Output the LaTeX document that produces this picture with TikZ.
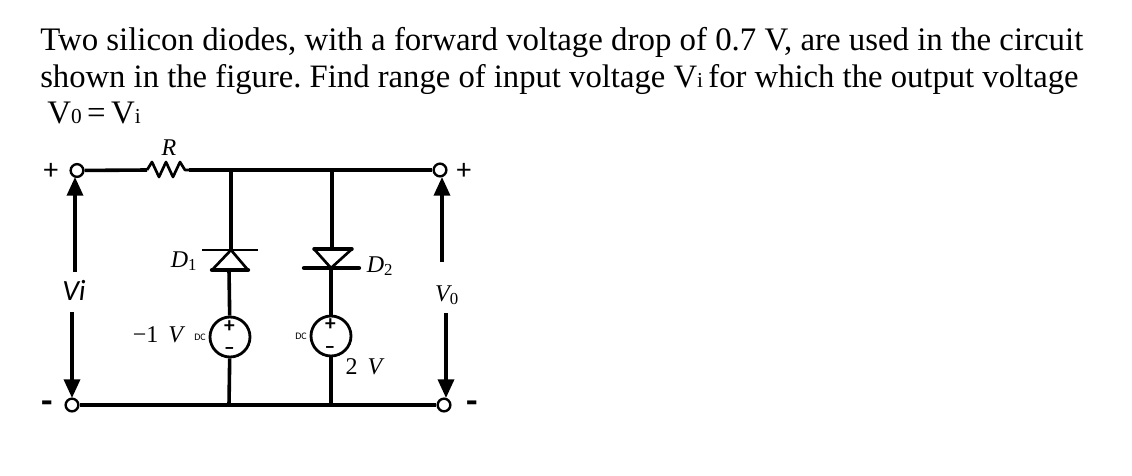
\documentclass[tikz,border=0pt]{standalone}
\usepackage{fontspec}
\setmainfont{Liberation Serif}
\newfontfamily\calfont{Carlito}
\usetikzlibrary{arrows.meta}
\frenchspacing
\tikzset{
  wire/.style={line width=2.7pt},
  thin wire/.style={line width=2pt},
  volt/.style={line width=2.6pt,-{Triangle[length=14pt,width=12pt]}},
  term/.style={circle,draw,line width=1.8pt,fill=white,inner sep=0pt,minimum size=9.5pt},
  src/.style={circle,draw,line width=2.1pt,inner sep=0pt,minimum size=30pt},
  txt/.style={anchor=base west,inner sep=0pt,font=\fontsize{24.65}{30}\selectfont},
  lab/.style={inner sep=0pt,font=\fontsize{18}{20}\selectfont\itshape},
  sign/.style={inner sep=0pt,font=\calfont\bfseries\fontsize{16}{16}\selectfont}
}
\newcommand{\smallch}[1]{{\fontsize{16}{18}\selectfont #1}}
\newcommand{\subch}[1]{\textsubscript{\upshape #1}}
\begin{document}
\begin{tikzpicture}[x=0.75pt,y=-0.75pt]
    \useasboundingbox (0, 0) rectangle (1132, 475);
    % question
    \node[txt] (q1) at (40, 50) {Two silicon diodes, with a forward voltage drop of 0.7 V, are used in the circuit};
    \node[txt,font=\fontsize{24.5}{30}\selectfont] (q2) at (40, 87) {shown in the figure. Find range of input voltage V\smallch{i}\,for which the output voltage};
    \node[txt] (q3) at (47, 123) {V\smallch{0}\,=\,V\smallch{i}};
    % junctions
    \coordinate (r1) at (147, 170);
    \coordinate (r2) at (189, 170);
    \coordinate (j1) at (231, 170);
    \coordinate (j2) at (332, 170);
    \coordinate (b1) at (229, 405);
    \coordinate (b2) at (331, 405);
    \coordinate (d1a) at (231, 250);
    \coordinate (d1l) at (212, 270);
    \coordinate (d1r) at (248, 270);
    \coordinate (d1c) at (229, 270);
    \coordinate (d2l) at (314, 249);
    \coordinate (d2r) at (352, 249);
    \coordinate (d2t) at (332, 249);
    \coordinate (d2a) at (331, 268);
    % terminals
    \node[term] (tl) at (77, 170.5) {};
    \node[term] (tr) at (440, 170) {};
    \node[term] (bl) at (72, 405) {};
    \node[term] (br) at (444, 405) {};
    % sources
    \node[src] (s1) at (230, 337) {};
    \node[src] (s2) at (331, 336) {};
    % wires
    \draw [wire] (tl) to (r1);
    \draw [thin wire,line join=round] (r1) -- ++(5, -8) -- ++(7, 15) -- ++(7, -15) -- ++(7, 15) -- ++(7, -15) -- ++(5, 8) -- (r2);
    \draw [wire] (r2) to (tr);
    \draw [wire] (bl) to (br);
    \draw [wire] (j1) to (d1a);
    \draw [wire] (j2) to (d2t);
    \draw [wire] (d1c) to (s1);
    \draw [wire] (d2a) to (s2);
    \draw [wire] (s1) to (b1);
    \draw [wire] (s2) to (b2);
    % diodes
    \draw [thin wire] (202, 250) to (258, 250);
    \draw [thin wire,line join=round] (d1a) -- (d1l) -- (d1r) -- cycle;
    \draw [line width=3.2pt,line cap=round] (d1l) to (d1r);
    \draw [thin wire,line join=round] (d2l) -- (d2a) -- (d2r) -- cycle;
    \draw [line width=2.6pt,line cap=round] (d2l) to (d2r);
    \draw [line width=3.2pt,line cap=round] (304, 268) to (359, 268);
    % voltage arrows
    \node[lab,font=\calfont\itshape\fontsize{22}{24}\selectfont] (vi) at (74, 290) {Vi};
    \node[lab] (vo) at (447, 295) {V\subch{0}};
    \coordinate (vi1) at (75, 272);
    \coordinate (vi2) at (75, 177);
    \coordinate (vi3) at (72, 312);
    \coordinate (vi4) at (72, 398);
    \coordinate (vo1) at (442, 262);
    \coordinate (vo2) at (442, 177);
    \coordinate (vo3) at (446, 313);
    \coordinate (vo4) at (446, 398);
    \draw [volt] (vi1) to (vi2);
    \draw [volt] (vi3) to (vi4);
    \draw [volt] (vo1) to (vo2);
    \draw [volt] (vo3) to (vo4);
    % labels
    \node[lab] (rl) at (169, 148) {R};
    \node[lab] (d1t) at (184, 261) {D\subch{1}};
    \node[lab] (d2t) at (380, 266) {D\subch{2}};
    \node[lab] (e1) at (158, 335) {\upshape\textminus 1\, \itshape V};
    \node[lab] (e2) at (364, 367) {\upshape 2\, \itshape V};
    \node[lab,font=\calfont\fontsize{7.5}{8}\selectfont] (dc1) at (200, 337) {DC};
    \node[lab,font=\calfont\fontsize{7.5}{8}\selectfont] (dc2) at (301, 336) {DC};
    \node[sign] (p1) at (229.5, 327) {+};
    \node[sign] (p2) at (330.5, 325) {+};
    \node[sign] (m1) at (229.5, 351) {–};
    \node[sign] (m2) at (330, 350) {–};
    \node[lab,font=\calfont\fontsize{22}{22}\selectfont] (pl) at (51, 171) {+};
    \node[lab,font=\calfont\fontsize{22}{22}\selectfont] (pr) at (464, 171) {+};
    \node[sign,font=\calfont\bfseries\fontsize{28}{28}\selectfont] (ml) at (47, 407) {-};
    \node[sign,font=\calfont\bfseries\fontsize{28}{28}\selectfont] (mr) at (472, 407) {-};
\end{tikzpicture}
\end{document}
